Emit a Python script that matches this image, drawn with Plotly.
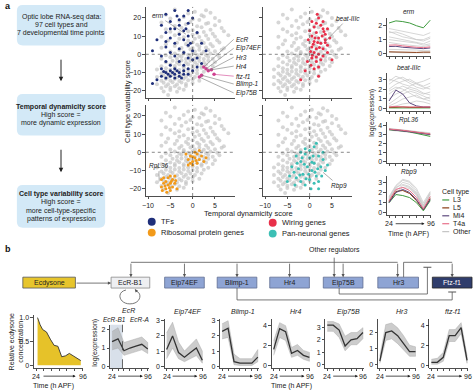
import plotly.graph_objects as go

W, H = 474, 392
FONT = "Liberation Sans, Arial, sans-serif"

# ---------------- data ----------------
# background cloud of all genes (temporal dynamicity, cell-type variability)
gray_pts = [
    (-4, 24.6), (0.5, 23.3), (3, 24.2),
    (-6, 21.7), (-1, 22.4), (2, 21.5), (4, 22.8),
    (-5, 19.6), (-2, 20.5), (0, 19.3), (2.5, 20.8), (5, 19.9),
    (-7, 17.5), (-3, 18.4), (-0.5, 17.7), (1.5, 18.9), (3.5, 17.2), (6, 18.3),
    (-4, 15.6), (-1.5, 16.5), (1, 15.4), (3, 16.8), (5, 15.9),
    (-6, 13.7), (-2.5, 14.6), (0, 13.3), (2, 14.9), (4, 13.5), (6.5, 14.4),
    (-5, 12.4), (-3, 11.5), (-1, 12.7), (1, 11.6), (2.5, 12.2), (4.5, 11.3), (7, 12.6),
    (-7, 9.6), (-4, 10.5), (-2, 9.4), (0, 10.7), (1.5, 9.5), (3, 10.3), (5, 9.8), (8, 10.4),
    (-5.5, 7.6), (-3, 8.5), (-1, 7.4), (0.5, 8.6), (2, 7.3), (3.5, 8.4), (5.5, 7.7),
    (-6, 5.5), (-3.5, 6.4), (-1.5, 5.6), (0, 6.6), (1, 5.3), (2.5, 6.2), (4, 5.7), (6, 6.5),
    (-7, 3.6), (-4, 4.5), (-2.5, 3.4), (-1, 4.6), (0, 3.5), (1.5, 4.3), (3, 3.7), (4.5, 4.4), (7, 3.3),
    (-5, 1.5), (-3, 2.4), (-2, 1.3), (-0.5, 2.6), (0.5, 1.6), (1.5, 2.5), (2.5, 1.4), (3.5, 2.3), (5, 1.7), (6.5, 2.5),
    (-6, -0.5), (-4, 0.4), (-3, -0.6), (-2, 0.5), (-1, -0.3), (0, 0.6), (1, -0.4), (2, 0.3), (3, -0.5), (4, 0.5), (5.5, -0.2),
    (-7, -2.4), (-5, -1.6), (-3.5, -2.5), (-2.5, -1.4), (-1.5, -2.6), (-0.5, -1.5), (0.5, -2.3), (1.5, -1.7), (2.5, -2.6), (3.5, -1.5), (4.5, -2.4), (6, -1.6),
    (-6, -4.4), (-4.5, -3.6), (-3.5, -4.5), (-2.5, -3.4), (-1.5, -4.6), (-0.5, -3.5), (0.5, -4.3), (1.5, -3.7), (2.5, -4.5), (3.5, -3.5), (5, -4.4),
    (-7, -6.5), (-5, -5.6), (-4, -6.4), (-3, -5.5), (-2, -6.6), (-1, -5.4), (0, -6.3), (1, -5.7), (2, -6.5), (3, -5.6), (4.5, -6.4),
    (-8, -8.4), (-6, -7.6), (-5, -8.5), (-4, -7.4), (-3, -8.6), (-2, -7.5), (-1, -8.3), (0, -7.7), (1, -8.6), (2, -7.4), (3.5, -8.5),
    (-7, -10.5), (-6, -9.6), (-5, -10.4), (-4, -9.5), (-3, -10.6), (-2, -9.4), (-1, -10.3), (0, -9.7), (1, -10.5), (2.5, -9.6),
    (-8, -12.4), (-6.5, -11.6), (-5.5, -12.5), (-4.5, -11.4), (-3.5, -12.6), (-2.5, -11.5), (-1.5, -12.3), (-0.5, -11.7), (0.5, -12.5), (2, -11.6),
    (-7, -14.5), (-6, -13.6), (-5, -14.4), (-4, -13.5), (-3, -14.6), (-2, -13.4), (-1, -14.3), (0, -13.7), (1.5, -14.5),
    (-8, -16.4), (-6.5, -15.6), (-5.5, -16.5), (-4.5, -15.4), (-3.5, -16.6), (-2.5, -15.5), (-1.5, -16.3), (0, -15.7),
    (-7, -18.5), (-6, -17.6), (-5, -18.4), (-4, -17.5), (-3, -18.6), (-1.5, -17.4),
    (-6.5, -20.4), (-5, -19.6), (-3.5, -20.5), (-2, -19.5),
    (-5.5, -22.3),
]

tf_pts = [
    (-6, 22), (-4, 24), (-2, 21), (-5, 18), (-3, 19), (-1, 17), (-7, 16), (-4, 14), (-2, 13), (-6, 12),
    (-3, 11), (-1, 10), (-5, 9), (-2, 8), (-4, 6), (-1, 5), (-6, 4), (-3, 3), (-5, 1), (-2, 1),
    (-7, -1), (-4, -1), (-1, -2), (-6, -4), (-3, -4), (0, -3), (-5, -6), (-2, -6), (-7, -8), (-4, -8),
    (-1, -8), (-6, -10), (-5, -9), (-4, -11), (-3, -10), (-2, -11), (-5, -12), (-3, -12), (-6, -13), (-4, -13),
    (-2, -9), (-1, -11), (0, -9), (1, -7), (2, -5), (1, -2), (0, 2), (-8, -14), (-9, -16), (-7, -12),
    (-8, 8), (-9, 2), (-1, 24), (0, 20), (1, 12), (2, 6), (3, 2), (-3, 16), (-5, 14), (-6, 7),
    (-4.5, -10), (-3.5, -9), (-5.5, -11), (-2.5, -13), (-6.5, -9.5), (-1.5, 14), (-3.5, 21), (-0.5, 6),
]
tf_label_genes = ["EcR", "Eip74EF", "Hr3", "Hr4", "ftz-f1", "Blimp-1", "Eip75B"]
tf_label_x = [2.5, 3.0, 3.5, 4.2, 4.8, 2.0, 1.5]
tf_label_y = [-7.0, -8.0, -9.0, -8.5, -11.0, -11.5, -12.5]
erm_pt = (-1.5, 11)

wiring_pts = [
    (0.5, 18), (1, 15), (2, 20), (1.5, 12), (3, 14), (0.5, 10), (2, 9), (3.5, 8), (1, 7), (2.5, 6),
    (0.5, 4), (1.5, 3), (3, 3), (4, 5), (1, 1), (2, 0), (3, -1), (0.5, -2), (1.5, -4), (2.5, -3),
    (0.3, -6), (1, -8), (2, -7), (4, 1), (3.5, 11), (1.5, 17), (0, 13), (2.5, 16), (4.5, 9), (0.8, 5.5),
    (1.8, 6.5), (2.8, 10), (3.2, 12.5), (1.2, 9), (0.2, 1.5), (-0.5, -4), (-1, -9), (5, -3), (2, -12), (1.5, -1.5),
    (3.5, 6.5), (2.2, 3.8), (0.6, -0.5), (-0.3, 8), (4, 14), (3, 18), (-2, -14), (1.7, 22),
]
beat_pt = (3.5, 7)

ribo_pts = [
    (-7, -19), (-6.5, -17), (-6, -20), (-6, -16), (-5.5, -18), (-5.5, -14), (-5, -21), (-5, -17), (-4.5, -19), (-4.5, -15),
    (-4, -17), (-4, -13), (-6.5, -14), (-7, -15), (-5.8, -22), (-4.8, -16), (-5.2, -19.5), (-6.2, -18.5), (-3.5, -20), (-3.8, -15.5),
    (-5, -13), (-6.8, -21), (-1, -4), (-0.5, -2), (0, -5), (0.5, -3), (1, -1), (1.5, -4), (0, -7), (-1, -7),
    (2, -2), (0.5, 0), (-0.5, -6), (1, -6), (2.5, -5), (-1.5, -1), (3, -3), (1.5, 1), (0, -2.5), (0.8, -4.5),
]
rpl36_pt = (-7.5, -16)

panneur_pts = [
    (-3, -2), (-2, -5), (-1, -1), (0, -3), (1, -6), (2, -2), (-2.5, -9), (-1.5, -12), (-0.5, -8), (0.5, -10),
    (1.5, -13), (2.5, -8), (-3, -14), (-2, -16), (-1, -18), (0, -15), (1, -17), (-4, -8), (-3.5, -11), (3, -4),
    (3.5, -10), (-1, 2), (0, 1), (1, 3), (-2, 0), (2, -16), (-2.8, -6), (-0.2, -12), (0.8, -2), (1.8, -9),
    (-1.2, -6.5), (0.3, -20), (-3.3, -18), (2.7, -13), (-4.5, -13), (4, -7), (-0.8, -14.5), (1.2, -11), (-1.7, -3), (0.5, -5.5),
    (-2.2, -12.5), (2, -20), (3, 0), (-5, -16), (1.5, 5),
]
rbp9_pt = (3, -11)

times = [24, 36, 48, 60, 72, 84, 96]
cell_types = ["L3", "L5", "Mi4", "T4a"]
cell_colors = ["#3f9b3f", "#8a3b12", "#5e4a7e", "#e8708a"]
other_color = "#c4c4c4"

erm_cells = [[2.2, 2.35, 2.3, 2.2, 2.0, 1.85, 2.4],
             [0.12, 0.1, 0.1, 0.08, 0.08, 0.1, 0.1],
             [0.5, 0.52, 0.45, 0.4, 0.38, 0.35, 0.4],
             [0.6, 0.62, 0.55, 0.48, 0.45, 0.42, 0.48]]
erm_other = [[1.8, 1.7, 1.6, 1.5, 1.4, 1.3, 1.5], [1.5, 1.55, 1.4, 1.2, 1.0, 0.9, 1.1],
             [1.2, 1.1, 1.0, 0.9, 0.8, 0.7, 0.9], [1.0, 0.95, 0.85, 0.8, 0.75, 0.6, 0.7],
             [0.8, 0.7, 0.65, 0.6, 0.55, 0.5, 0.6], [0.3, 0.3, 0.3, 0.25, 0.25, 0.2, 0.2],
             [0.1, 0.05, 0.05, 0.05, 0.05, 0.05, 0.05], [1.6, 1.4, 1.2, 1.1, 1.0, 1.0, 1.2]]

beat_cells = [[0.1, 0.1, 0.12, 0.1, 0.1, 0.1, 0.1],
              [0.15, 0.2, 0.2, 0.15, 0.15, 0.12, 0.15],
              [0.8, 1.9, 1.5, 0.6, 0.3, 0.2, 0.2],
              [0.2, 0.25, 0.2, 0.2, 0.18, 0.15, 0.2]]
beat_other = [[2.5, 3.0, 3.2, 2.8, 2.5, 2.2, 2.0], [2.0, 2.5, 2.8, 3.0, 2.6, 2.3, 2.6],
              [1.5, 2.0, 2.3, 2.0, 1.8, 1.5, 1.7], [1.0, 1.5, 1.8, 2.2, 2.0, 1.6, 1.4],
              [0.5, 1.0, 1.5, 1.8, 1.6, 1.3, 1.0], [0.3, 0.6, 1.0, 1.2, 1.4, 1.0, 0.8],
              [0.2, 0.3, 0.5, 0.6, 0.8, 0.7, 0.5], [3.0, 2.8, 2.5, 2.3, 2.6, 2.8, 3.1],
              [1.8, 2.2, 2.0, 1.6, 1.2, 1.0, 1.2], [2.8, 3.3, 3.0, 2.6, 2.2, 2.0, 2.3]]

rpl_cells = [[3.55, 3.5, 3.4, 3.3, 3.15, 3.0, 2.8],
             [3.6, 3.55, 3.45, 3.35, 3.25, 3.15, 3.05],
             [3.58, 3.52, 3.42, 3.32, 3.22, 3.12, 3.0],
             [3.62, 3.58, 3.48, 3.38, 3.28, 3.18, 3.08]]
rpl_other = [[3.7, 3.6, 3.5, 3.4, 3.3, 3.2, 3.1], [3.5, 3.45, 3.35, 3.25, 3.15, 3.05, 2.95],
             [3.65, 3.6, 3.5, 3.45, 3.35, 3.3, 3.2]]

rbp_cells = [[1.0, 1.8, 1.7, 1.5, 1.0, 0.2, 1.2],
             [1.1, 2.1, 2.2, 1.9, 1.2, 0.3, 1.4],
             [1.0, 2.0, 2.3, 2.0, 1.3, 0.3, 1.3],
             [1.2, 2.3, 2.5, 2.2, 1.5, 0.4, 1.6]]
rbp_other = [[1.5, 2.6, 3.2, 3.0, 2.2, 0.8, 2.0], [1.3, 2.4, 3.0, 2.8, 2.0, 0.6, 1.8],
             [1.4, 2.5, 2.8, 2.6, 1.9, 0.7, 1.9], [1.2, 2.2, 2.7, 2.5, 1.8, 0.5, 1.6],
             [1.6, 2.7, 3.3, 3.1, 2.4, 1.0, 2.1], [1.0, 2.0, 2.5, 2.4, 1.7, 0.4, 1.5]]

# ecdysone titre
ecd_time = [26, 30, 34, 40, 46, 52, 58, 64, 70, 76, 82, 88, 94]
ecd_conc = [1.0, 0.85, 0.75, 0.70, 0.55, 0.42, 0.40, 0.18, 0.20, 0.25, 0.20, 0.15, 0.10]

# regulator expression: mean line and spread of cell types (low / high)
reg_genes = ["EcR", "Eip74EF", "Blimp-1", "Hr4", "Eip75B", "Hr3", "ftz-f1"]
reg_mean = [[1.35, 1.5, 0.85, 1.0, 1.1, 1.2, 0.95],
            [1.1, 2.0, 0.9, 0.6, 0.9, 1.2, 0.4],
            [2.3, 2.5, 0.3, 0.2, 0.2, 0.2, 0.6],
            [1.6, 3.7, 3.4, 1.2, 1.5, 1.0, 0.8],
            [3.2, 3.2, 2.8, 1.5, 2.0, 2.1, 2.6],
            [0.2, 2.0, 2.1, 1.8, 1.3, 0.8, 0.8],
            [0.3, 0.3, 0.8, 3.0, 3.0, 3.8, 0.5]]
reg_low = [[0.9, 1.0, 0.6, 0.7, 0.8, 0.9, 0.7],
           [0.5, 1.2, 0.5, 0.3, 0.5, 0.7, 0.2],
           [1.8, 1.9, 0.1, 0.05, 0.05, 0.05, 0.3],
           [1.0, 2.8, 2.5, 0.8, 1.0, 0.6, 0.4],
           [2.7, 2.7, 2.2, 1.1, 1.6, 1.6, 2.1],
           [0.05, 1.5, 1.6, 1.3, 0.9, 0.5, 0.5],
           [0.1, 0.1, 0.4, 2.4, 2.4, 3.2, 0.2]]
reg_high = [[1.9, 2.1, 1.3, 1.4, 1.5, 1.6, 1.3],
            [2.2, 2.9, 1.6, 1.0, 1.4, 1.8, 1.0],
            [2.8, 3.0, 0.8, 0.5, 0.5, 0.5, 1.1],
            [2.5, 4.3, 4.0, 1.8, 2.1, 1.5, 1.3],
            [3.5, 3.5, 3.3, 2.3, 2.6, 2.6, 3.0],
            [0.5, 2.5, 2.6, 2.3, 1.8, 1.2, 1.1],
            [0.6, 0.7, 1.3, 3.6, 3.6, 4.3, 1.0]]
reg_ticks = [[0, 1, 2], [0, 1, 2, 3], [0, 1, 2, 3], [0, 2, 4], [0, 1, 2, 3], [0, 1, 2], [0, 2, 4]]

# ---------------- helpers ----------------
def X(p):
    return p / W


def Y(p):
    return 1 - p / H


def dx(a, b):
    return [a / W, b / W]


def dy(top, bottom):
    return [1 - bottom / H, 1 - top / H]


def axis(**kw):
    d = dict(showline=True, linecolor="#222", linewidth=0.8, ticks="outside", ticklen=2.5,
             tickwidth=0.8, tickcolor="#222", showgrid=False, zeroline=False,
             tickfont=dict(size=7, color="#222", family=FONT))
    d.update(kw)
    return d


def ref(k):
    return ("x", "y") if k == 1 else (f"x{k}", f"y{k}")


fig = go.Figure()
layout = dict(width=W, height=H, margin=dict(l=0, r=0, t=0, b=0), showlegend=False,
              paper_bgcolor="white", plot_bgcolor="white", font=dict(family=FONT, size=7, color="#222"))
shapes, annos = [], []

# ---------------- scatter panels ----------------
sc_dom = {1: ((143, 233), (5, 97)), 2: ((261, 351), (5, 97)),
          3: ((143, 233), (104, 196)), 4: ((261, 351), (104, 196))}
highlight = {1: (tf_pts, "#1f2f7a"), 2: (wiring_pts, "#e8304a"),
             3: (ribo_pts, "#f29a1a"), 4: (panneur_pts, "#3cbfb5")}
for k, ((xa, xb), (ya, yb)) in sc_dom.items():
    xr, yr = ref(k)
    layout["xaxis" if k == 1 else f"xaxis{k}"] = axis(domain=dx(xa, xb), range=[-10.5, 9.5],
                                                      tickvals=[-10, -5, 0, 5], anchor=yr,
                                                      showticklabels=k in (3, 4))
    layout["yaxis" if k == 1 else f"yaxis{k}"] = axis(domain=dy(ya, yb), range=[-24, 26],
                                                      tickvals=[-20, -10, 0, 10, 20], anchor=xr,
                                                      showticklabels=k in (1, 3))
    fig.add_trace(go.Scatter(x=[p[0] for p in gray_pts], y=[p[1] for p in gray_pts], mode="markers",
                             xaxis=xr, yaxis=yr, hoverinfo="skip",
                             marker=dict(size=4, color="#c4c4c4", opacity=0.7, line=dict(width=0))))
    pts, col = highlight[k]
    fig.add_trace(go.Scatter(x=[p[0] for p in pts], y=[p[1] for p in pts], mode="markers",
                             xaxis=xr, yaxis=yr, hoverinfo="skip",
                             marker=dict(size=3, color=col, line=dict(width=0))))
    shapes.append(dict(type="line", xref=xr, yref=f"{yr} domain", x0=0, x1=0, y0=0, y1=1,
                       line=dict(color="#555", width=0.7, dash="dot")))
    shapes.append(dict(type="line", xref=f"{xr} domain", yref=yr, x0=0, x1=1, y0=0, y1=0,
                       line=dict(color="#555", width=0.7, dash="dot")))

fig.add_trace(go.Scatter(x=tf_label_x, y=tf_label_y, mode="markers", xaxis="x", yaxis="y",
                         marker=dict(size=3.5, color="#d04090"), hoverinfo="skip"))

label_tail_y = [8.2, 3.3, -1.6, -6.5, -12.0, -16.3, -21.2]
for g, x0, y0, ty in zip(tf_label_genes, tf_label_x, tf_label_y, label_tail_y):
    annos.append(dict(x=x0, y=y0, xref="x", yref="y", ax=9.2, ay=ty, axref="x", ayref="y",
                      text=f"<i>{g}</i>", xanchor="left", showarrow=True, arrowhead=0, arrowwidth=0.6,
                      arrowcolor="#d04090" if g == "ftz-f1" else "#777", font=dict(size=6.5)))
annos.append(dict(x=erm_pt[0], y=erm_pt[1], xref="x", yref="y", ax=-7.8, ay=21.2, axref="x", ayref="y",
                  text="<i>erm</i>", showarrow=True, arrowhead=0, arrowwidth=0.6, arrowcolor="#777",
                  font=dict(size=6.5)))
annos.append(dict(x=beat_pt[0], y=beat_pt[1], xref="x2", yref="y2", ax=8.5, ay=19.6, axref="x2", ayref="y2",
                  text="<i>beat-IIIc</i>", showarrow=True, arrowhead=0, arrowwidth=0.6, arrowcolor="#777",
                  font=dict(size=6.5)))
annos.append(dict(x=rpl36_pt[0], y=rpl36_pt[1], xref="x3", yref="y3", ax=-7.6, ay=-7.4, axref="x3", ayref="y3",
                  text="<i>RpL36</i>", showarrow=True, arrowhead=0, arrowwidth=0.6, arrowcolor="#777",
                  font=dict(size=6.5)))
annos.append(dict(x=rbp9_pt[0], y=rbp9_pt[1], xref="x4", yref="y4", ax=6.6, ay=-18.5, axref="x4", ayref="y4",
                  text="<i>Rbp9</i>", showarrow=True, arrowhead=0, arrowwidth=0.6, arrowcolor="#777",
                  font=dict(size=6.5)))

annos.append(dict(x=X(247), y=Y(214), xref="paper", yref="paper", text="Temporal dynamicity score",
                  showarrow=False, font=dict(size=7.5)))
annos.append(dict(x=X(125), y=Y(100), xref="paper", yref="paper", text="Cell type variability score",
                  showarrow=False, textangle=-90, font=dict(size=7.5)))

# scatter legend
for (cx, cy), col, txt in zip([(149, 222), (149, 233), (271, 223), (271, 234)],
                              ["#1f2f7a", "#f29a1a", "#e8304a", "#3cbfb5"],
                              ["TFs", "Ribosomal protein genes", "Wiring genes", "Pan-neuronal genes"]):
    shapes.append(dict(type="circle", xref="paper", yref="paper", x0=X(cx - 4), x1=X(cx + 4),
                       y0=Y(cy + 4), y1=Y(cy - 4), fillcolor=col, line=dict(width=0)))
    annos.append(dict(x=X(cx + 7), y=Y(cy), xref="paper", yref="paper", text=txt, xanchor="left",
                      showarrow=False, font=dict(size=7.5)))

# ---------------- right column line plots ----------------
rc = [(5, "erm", erm_cells, erm_other, (16, 55), [-0.21, 2.57], [0, 1, 2], 10),
      (6, "beat-IIIc", beat_cells, beat_other, (72, 110), [-0.2, 3.6], [0, 1, 2, 3], 66),
      (7, "RpL36", rpl_cells, rpl_other, (121, 163), [-0.22, 4.44], [0, 1, 2, 3, 4], 119),
      (8, "Rbp9", rbp_cells, rbp_other, (176, 215), [-0.19, 3.6], [0, 1, 2, 3], 172)]
for k, name, cells, others, (ya, yb), yrng, yt, ty in rc:
    xr, yr = ref(k)
    layout[f"xaxis{k}"] = axis(domain=dx(386, 431), range=[20, 98], tickvals=times, ticklen=2,
                               showticklabels=False, anchor=yr)
    layout[f"yaxis{k}"] = axis(domain=dy(ya, yb), range=yrng, tickvals=yt, anchor=xr)
    for o in others:
        fig.add_trace(go.Scatter(x=times, y=o, mode="lines", xaxis=xr, yaxis=yr, hoverinfo="skip",
                                 line=dict(color=other_color, width=0.7)))
    for c, col in zip(cells, cell_colors):
        fig.add_trace(go.Scatter(x=times, y=c, mode="lines", xaxis=xr, yaxis=yr, hoverinfo="skip",
                                 line=dict(color=col, width=1)))
    annos.append(dict(x=X(408), y=Y(ty), xref="paper", yref="paper", text=f"<i>{name}</i>",
                      showarrow=False, font=dict(size=6.5)))

annos.append(dict(x=X(371), y=Y(112), xref="paper", yref="paper", text="log(expression)",
                  showarrow=False, textangle=-90, font=dict(size=7)))
annos.append(dict(x=X(408), y=Y(234), xref="paper", yref="paper", text="Time (h APF)",
                  showarrow=False, font=dict(size=7)))

# cell type legend
annos.append(dict(x=X(440), y=Y(192), xref="paper", yref="paper", text="Cell type", xanchor="left",
                  showarrow=False, font=dict(size=7)))
for i, (ct, col) in enumerate(zip(cell_types + ["Other"], cell_colors + [other_color])):
    yy = 200 + i * 8
    shapes.append(dict(type="line", xref="paper", yref="paper", x0=X(442), x1=X(449), y0=Y(yy), y1=Y(yy),
                       line=dict(color=col, width=1.2)))
    annos.append(dict(x=X(451), y=Y(yy), xref="paper", yref="paper", text=ct, xanchor="left",
                      showarrow=False, font=dict(size=7)))


def time_axis_labels(xr, ylab):
    annos.append(dict(x=24, y=Y(ylab), xref=xr, yref="paper", text="24", showarrow=False,
                      font=dict(size=7)))
    annos.append(dict(x=97, y=Y(ylab), xref=xr, yref="paper", text="96", showarrow=False,
                      font=dict(size=7), xanchor="center"))
    annos.append(dict(x=86, y=Y(ylab), xref=xr, yref="paper", ax=33, ay=0, axref=xr, ayref="pixel",
                      text="", showarrow=True, arrowhead=2, arrowsize=0.7, arrowwidth=0.8,
                      arrowcolor="#222"))


time_axis_labels("x8", 224)

# ---------------- panel b: ecdysone titre ----------------
layout["xaxis9"] = axis(domain=dx(30, 80), range=[20, 98], tickvals=times, ticklen=2,
                        showticklabels=False, anchor="y9")
layout["yaxis9"] = axis(domain=dy(316, 370), range=[-0.06, 1.06], tickvals=[0, 0.5, 1.0],
                        ticktext=["0", "0.5", "1.0"], anchor="x9")
fig.add_trace(go.Scatter(x=ecd_time, y=ecd_conc, mode="lines", fill="tozeroy", xaxis="x9", yaxis="y9",
                         fillcolor="#e6c229", line=dict(color="#333", width=0.9), hoverinfo="skip"))
time_axis_labels("x9", 378)
annos.append(dict(x=X(50), y=Y(388), xref="paper", yref="paper", text="Time (h APF)",
                  showarrow=False, font=dict(size=7)))
annos.append(dict(x=X(12), y=Y(343), xref="paper", yref="paper",
                  text="Relative ecdysone<br>concentration", showarrow=False, textangle=-90,
                  font=dict(size=7)))

# ---------------- panel b: regulator expression ----------------
b_dom = [(107, 146, 326, [-0.1, 2.27]), (162, 201, 320, [-0.13, 3.13]), (218, 257, 320, [-0.13, 3.13]),
         (270, 309, 320, [-0.3, 4.7]), (324, 363, 320, [-0.32, 3.73]), (377, 416, 320, [-0.25, 2.87]),
         (429, 468, 320, [-0.3, 4.7])]
for i, (g, (xa, xb, ytop, yrng)) in enumerate(zip(reg_genes, b_dom)):
    k = 10 + i
    xr, yr = ref(k)
    layout[f"xaxis{k}"] = axis(domain=dx(xa, xb), range=[20, 98], tickvals=times, ticklen=2,
                               showticklabels=False, anchor=yr)
    layout[f"yaxis{k}"] = axis(domain=dy(ytop, 370), range=yrng, tickvals=reg_ticks[i], anchor=xr)
    if g == "EcR":
        shapes.append(dict(type="rect", xref=xr, yref=f"{yr} domain", x0=20, x1=45, y0=0, y1=1,
                           fillcolor="#d8e0ea", line=dict(width=0), layer="below"))
        shapes.append(dict(type="line", xref=xr, yref=f"{yr} domain", x0=45, x1=45, y0=0, y1=1.0,
                           line=dict(color="#444", width=0.8, dash="dash")))
    fig.add_trace(go.Scatter(x=times + times[::-1], y=reg_high[i] + reg_low[i][::-1], mode="lines",
                             fill="toself", fillcolor="rgba(170,170,170,0.6)", xaxis=xr, yaxis=yr,
                             line=dict(color="rgba(160,160,160,0.8)", width=0.5), hoverinfo="skip"))
    fig.add_trace(go.Scatter(x=times, y=reg_mean[i], mode="lines", xaxis=xr, yaxis=yr,
                             line=dict(color="#333", width=1.3), hoverinfo="skip"))
    time_axis_labels(xr, 378)
    if g == "EcR":
        annos.append(dict(x=X(126), y=Y(312), xref="paper", yref="paper", text="<i>EcR</i>",
                          showarrow=False, font=dict(size=7)))
        annos.append(dict(x=X(111), y=Y(321), xref="paper", yref="paper", text="<i>EcR-B1</i>",
                          showarrow=False, font=dict(size=6.5)))
        annos.append(dict(x=X(137), y=Y(321), xref="paper", yref="paper", text="<i>EcR-A</i>",
                          showarrow=False, font=dict(size=6.5)))
    else:
        annos.append(dict(x=X((xa + xb) / 2 + 4), y=Y(313), xref="paper", yref="paper",
                          text=f"<i>{g}</i>", showarrow=False, font=dict(size=7)))

annos.append(dict(x=X(92), y=Y(344), xref="paper", yref="paper", text="log(expression)",
                  showarrow=False, textangle=-90, font=dict(size=7)))
annos.append(dict(x=X(290), y=Y(388), xref="paper", yref="paper", text="Time (h APF)",
                  showarrow=False, font=dict(size=7)))

# ---------------- panel a: workflow boxes ----------------
def rrect(x0, y0, x1, y1, r):
    return (f"M {X(x0 + r)},{Y(y0)} L {X(x1 - r)},{Y(y0)} Q {X(x1)},{Y(y0)} {X(x1)},{Y(y0 + r)} "
            f"L {X(x1)},{Y(y1 - r)} Q {X(x1)},{Y(y1)} {X(x1 - r)},{Y(y1)} "
            f"L {X(x0 + r)},{Y(y1)} Q {X(x0)},{Y(y1)} {X(x0)},{Y(y1 - r)} "
            f"L {X(x0)},{Y(y0 + r)} Q {X(x0)},{Y(y0)} {X(x0 + r)},{Y(y0)} Z")


flow = [((3, 44), ["Optic lobe RNA-seq data:", "97 cell types and", "7 developmental time points"], False),
        ((93, 135), ["Temporal dynamicity score", "High score =", "more dynamic expression"], True),
        ((185, 228), ["Cell type variability score", "High score =", "more cell-type-specific",
                      "patterns of expression"], True)]
for (t, b), lines, bold in flow:
    shapes.append(dict(type="path", xref="paper", yref="paper", path=rrect(13, t, 102, b, 6),
                       fillcolor="#d3e9f7", line=dict(width=0)))
    n = len(lines)
    mid = (t + b) / 2
    for j, ln in enumerate(lines):
        yy = mid + (j - (n - 1) / 2) * 8.3
        txt = f"<b>{ln}</b>" if (bold and j == 0) else ln
        annos.append(dict(x=X(57.5), y=Y(yy), xref="paper", yref="paper", text=txt, showarrow=False,
                          font=dict(size=7, color="#222")))
for y0, y1 in [(57, 80), (148, 172)]:
    annos.append(dict(x=X(57.5), y=Y(y1), xref="paper", yref="paper", ax=0, ay=-(y1 - y0), text="",
                      showarrow=True, arrowhead=2, arrowsize=0.9, arrowwidth=1, arrowcolor="#222"))

annos.append(dict(x=X(4), y=Y(4), xref="paper", yref="paper", text="<b>a</b>", showarrow=False,
                  font=dict(size=9, color="#111")))
annos.append(dict(x=X(4), y=Y(250), xref="paper", yref="paper", text="<b>b</b>", showarrow=False,
                  font=dict(size=9, color="#111")))

# ---------------- panel b: regulatory network ----------------
boxes = [("Ecdysone", 19, 72, "#e7c52c", "#555", "#222"),
         ("EcR-B1", 108, 147, "#eeeff2", "#888", "#222"),
         ("Eip74EF", 162, 202, "#8ea4d4", "#5f6d92", "#222"),
         ("Blimp-1", 215, 255, "#8ea4d4", "#5f6d92", "#222"),
         ("Hr4", 268, 308, "#8ea4d4", "#5f6d92", "#222"),
         ("Eip75B", 322, 362, "#8ea4d4", "#5f6d92", "#222"),
         ("Hr3", 377, 418, "#8ea4d4", "#5f6d92", "#222"),
         ("Ftz-f1", 432, 472, "#2f3d6c", "#222", "white")]
for name, x0, x1, fc, lc, tc in boxes:
    shapes.append(dict(type="rect", xref="paper", yref="paper", x0=X(x0), x1=X(x1), y0=Y(289), y1=Y(278),
                       fillcolor=fc, line=dict(color=lc, width=0.8)))
    annos.append(dict(x=X((x0 + x1) / 2), y=Y(283.5), xref="paper", yref="paper", text=name,
                      showarrow=False, font=dict(size=7, color=tc)))

LC = "#555"


def pline(pts, width=0.8):
    path = "M " + " L ".join(f"{X(a)},{Y(b)}" for a, b in pts)
    shapes.append(dict(type="path", xref="paper", yref="paper", path=path, line=dict(color=LC, width=width)))


def parrow(x0, y0, x1, y1):
    annos.append(dict(x=X(x1), y=Y(y1), xref="paper", yref="paper", ax=x0 - x1, ay=y0 - y1, text="",
                      showarrow=True, arrowhead=2, arrowsize=0.8, arrowwidth=0.8, arrowcolor=LC))


pline([(128, 263), (397, 263)])
for xa in [128, 182, 235, 288, 342, 397]:
    parrow(xa, 263, xa, 278)
parrow(333, 257, 333, 278)
annos.append(dict(x=X(333), y=Y(251), xref="paper", yref="paper", text="Other regulators",
                  showarrow=False, font=dict(size=7)))
pline([(403, 278), (403, 263), (452, 263)])
parrow(452, 263, 452, 278)
pline([(338, 289), (338, 295), (427, 295), (427, 268)])
pline([(423, 268), (431, 268)], 1)
pline([(235, 289), (235, 301), (452, 301), (452, 293)])
pline([(448, 293), (456, 293)], 1)
parrow(72, 284, 108, 284)
shapes.append(dict(type="path", xref="paper", yref="paper",
                   path=(f"M {X(123)},{Y(291)} C {X(113)},{Y(293)} {X(116)},{Y(305)} {X(127)},{Y(305)} "
                         f"C {X(138)},{Y(305)} {X(140)},{Y(294)} {X(133)},{Y(292)}"),
                   line=dict(color=LC, width=0.8)))
parrow(135, 294, 132, 290)

for a in annos:
    a.setdefault("xanchor", "center")
    a.setdefault("yanchor", "middle")

layout["shapes"] = shapes
layout["annotations"] = annos
fig.update_layout(**layout)
fig.write_html("out.html", config={"displayModeBar": False, "staticPlot": True},
               post_script="document.body.style.margin='0';document.body.style.overflow='hidden';")
